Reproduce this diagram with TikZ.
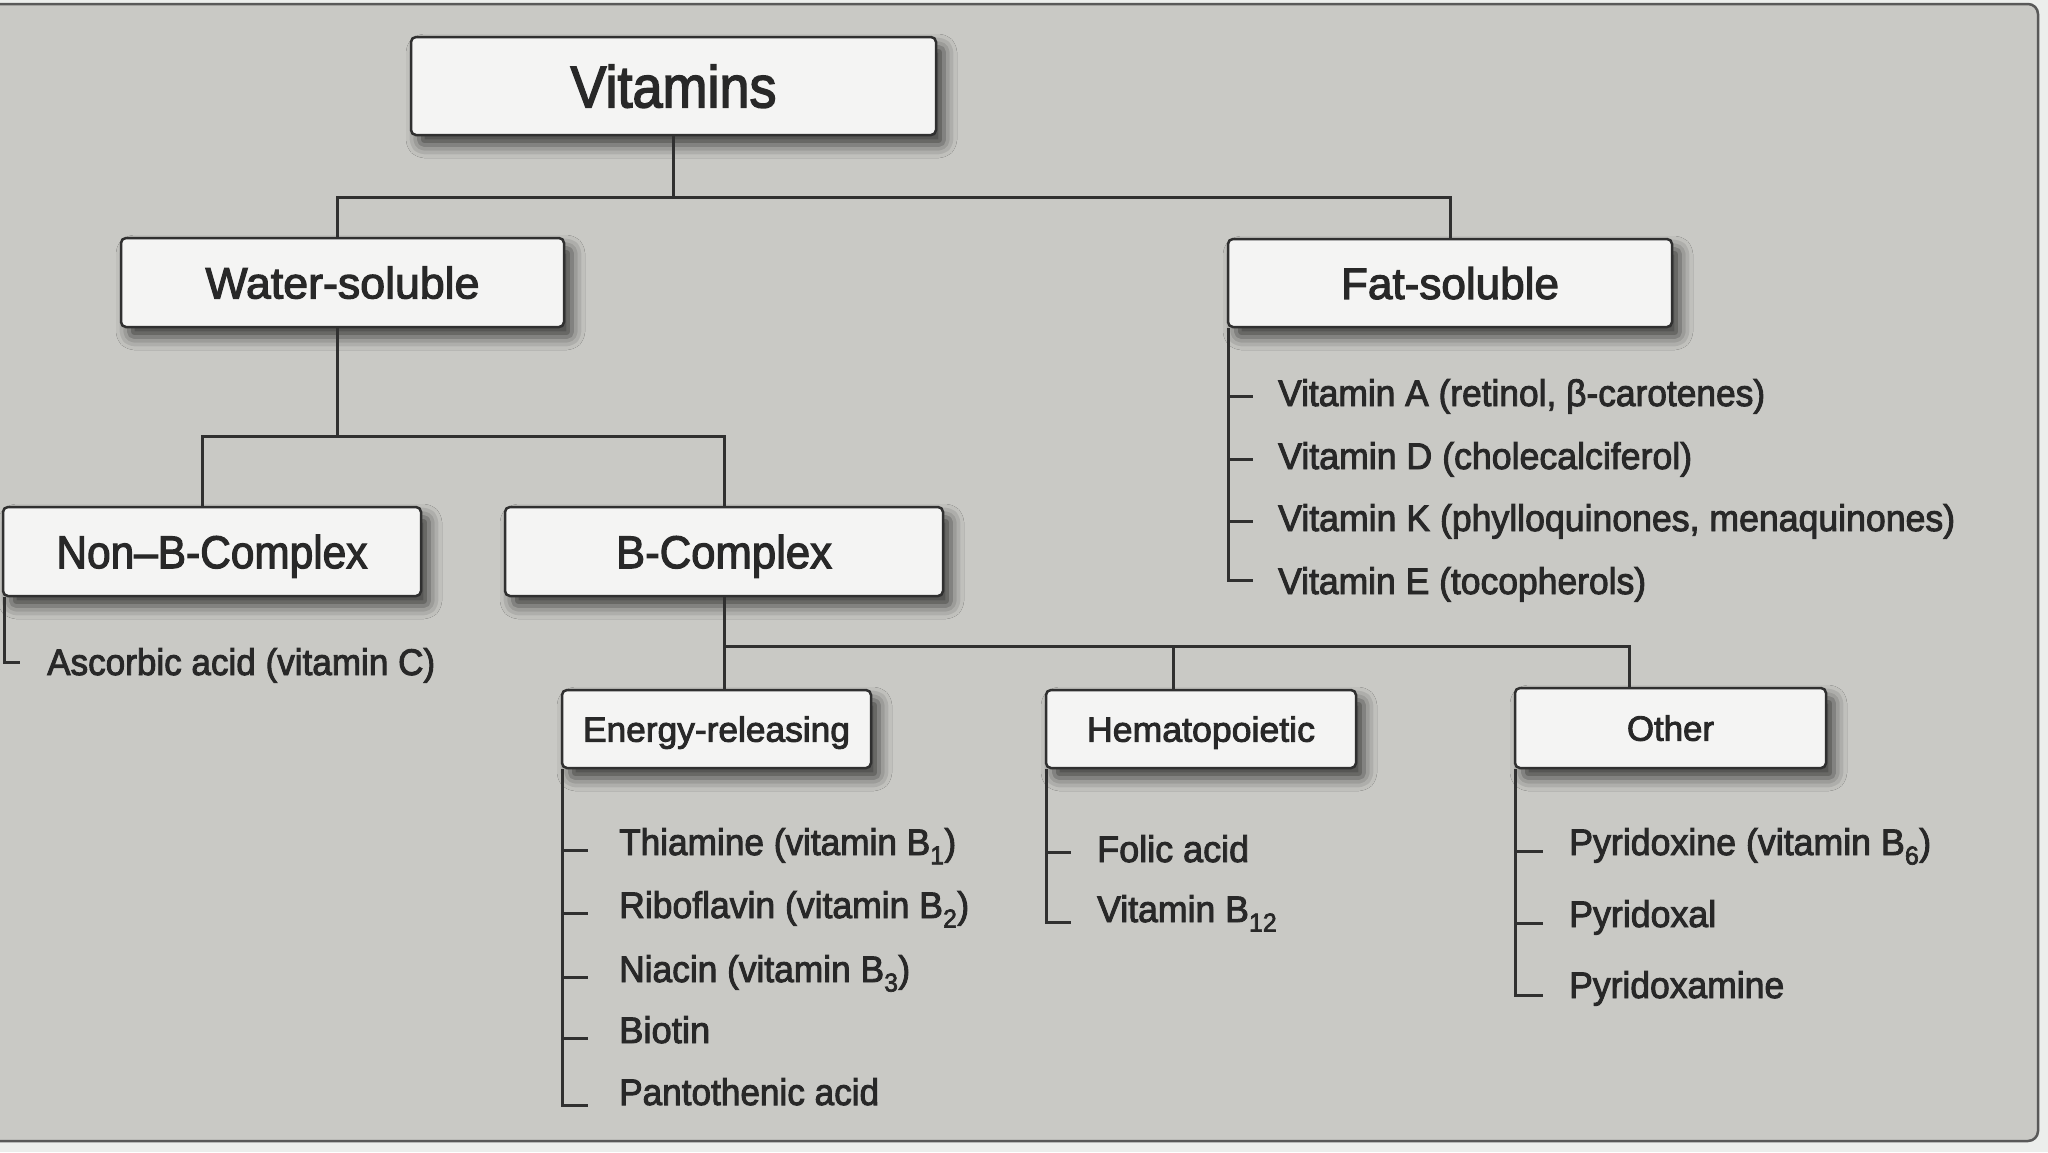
\documentclass[tikz,border=0pt]{standalone}
\usepackage{fontspec}
\setmainfont{Liberation Sans}[FakeBold=2.6]
\usepackage{graphicx}
\usetikzlibrary{calc,shadows.blur}
\definecolor{panel}{RGB}{201,201,197}
\definecolor{outer}{RGB}{236,238,236}
\definecolor{boxfill}{RGB}{244,244,243}
\definecolor{ink}{RGB}{40,40,40}
\definecolor{linec}{RGB}{48,48,48}
\newcommand\fw[3]{\resizebox{#1pt}{\height}{\fontsize{#2}{#2}\selectfont #3}}
\tikzset{
  box/.style={draw=linec, line width=2.5pt, rounded corners=5pt, fill=boxfill,
    inner sep=0pt, text=ink, text depth=0pt,
    blur shadow={shadow xshift=8pt, shadow yshift=-10pt, shadow blur radius=13pt, shadow opacity=70}},
  item/.style={anchor=base west, inner sep=0pt, text=ink},
  conn/.style={draw=linec, line width=3pt}
}
\begin{document}
\begin{tikzpicture}[x=1pt,y=-1pt]
\useasboundingbox (0,0) rectangle (2048,1152);
\fill[outer] (0,0) rectangle (2048,1152);
\draw[draw=black!65, line width=2.5pt, fill=panel, rounded corners=10pt] (-20,4) rectangle (2038,1141);

% boxes
\node[box, minimum width=525pt, minimum height=98pt] (vit) at (673.5,86) {\fw{206}{59}{Vitamins}};
\node[box, minimum width=443pt, minimum height=89pt] (water) at (342.5,282.5) {\fw{274}{44}{Water-soluble}};
\node[box, minimum width=444pt, minimum height=88pt] (fat) at (1450,283) {\fw{218}{44}{Fat-soluble}};
\node[box, minimum width=418pt, minimum height=89pt] (nonb) at (212,551.5) {\fw{311}{46}{Non–B-Complex}};
\node[box, minimum width=438pt, minimum height=89pt] (bc) at (724,551.5) {\fw{216}{46}{B-Complex}};
\node[box, minimum width=309pt, minimum height=78pt] (energy) at (716.5,729) {\fw{267}{35}{Energy-releasing}};
\node[box, minimum width=310pt, minimum height=78pt] (hema) at (1201,729) {\fw{228}{35}{Hematopoietic}};
\node[box, minimum width=311pt, minimum height=80pt] (other) at (1670.5,728) {\fw{87}{35}{Other}};

% list items
\node[item] (asc) at (47,675) {\fw{388}{37}{Ascorbic acid (vitamin C)}};
\node[item] (fa) at (1278,406) {\fw{487}{37}{Vitamin A (retinol, β-carotenes)}};
\node[item] (fd) at (1278,469) {\fw{414}{37}{Vitamin D (cholecalciferol)}};
\node[item] (fk) at (1278,531) {\fw{677}{37}{Vitamin K (phylloquinones, menaquinones)}};
\node[item] (fe) at (1278,594) {\fw{368}{37}{Vitamin E (tocopherols)}};
\node[item] (e1) at (619,855) {\fw{337}{37}{Thiamine (vitamin B\textsubscript{1})}};
\node[item] (e2) at (619,918) {\fw{350}{37}{Riboflavin (vitamin B\textsubscript{2})}};
\node[item] (e3) at (619,982) {\fw{291}{37}{Niacin (vitamin B\textsubscript{3})}};
\node[item] (e4) at (619,1043) {\fw{91}{37}{Biotin}};
\node[item] (e5) at (619,1105) {\fw{260}{37}{Pantothenic acid}};
\node[item] (h1) at (1097,862) {\fw{152}{37}{Folic acid}};
\node[item] (h2) at (1097,922) {\fw{180}{37}{Vitamin B\textsubscript{12}}};
\node[item] (o1) at (1569,855) {\fw{362}{37}{Pyridoxine (vitamin B\textsubscript{6})}};
\node[item] (o2) at (1569,927) {\fw{147}{37}{Pyridoxal}};
\node[item] (o3) at (1569,998) {\fw{215}{37}{Pyridoxamine}};

% tree connectors
\draw[conn] (vit.south) -- ++(0,61) coordinate (vj);
\draw[conn] ([xshift=-5pt]water.north) |- (vj) -| (fat.north);
\draw[conn] ([xshift=-5pt]water.south) -- ++(0,108) coordinate (wj);
\draw[conn] ([xshift=-10pt]nonb.north) |- (wj) -| (bc.north);
\draw[conn] (bc.south) -- (bc.south |- energy.north);
\path (bc.south) ++(0,49) coordinate (bj);
\draw[conn] (bj) -| ([xshift=-28pt]hema.north);
\draw[conn] (bj) -| ([xshift=-41.5pt]other.north);

% list brackets
\draw[conn] ([xshift=3pt]nonb.south west) |- ($(asc.base west)+(-27,-13)$);
\draw[conn] ([xshift=1.5pt]fat.south west) |- ($(fe.base west)+(-25,-14)$);
\foreach \n in {fa,fd,fk}
  \draw[conn] ($(\n.base west -| fat.south west)+(1.5,-10)$) -- ($(\n.base west)+(-25,-10)$);
\draw[conn] ([xshift=1.5pt]energy.south west) |- ($(e5.base west)+(-31,0)$);
\foreach \n in {e1,e2,e3,e4}
  \draw[conn] ($(\n.base west -| energy.south west)+(1.5,-5)$) -- ($(\n.base west)+(-31,-5)$);
\draw[conn] ([xshift=1.5pt]hema.south west) |- ($(h2.base west)+(-26,0)$);
\draw[conn] ($(h1.base west -| hema.south west)+(1.5,-10)$) -- ($(h1.base west)+(-26,-10)$);
\draw[conn] ([xshift=1.5pt]other.south west) |- ($(o3.base west)+(-26,-3)$);
\foreach \n in {o1,o2}
  \draw[conn] ($(\n.base west -| other.south west)+(1.5,-4)$) -- ($(\n.base west)+(-26,-4)$);
\end{tikzpicture}
\end{document}
